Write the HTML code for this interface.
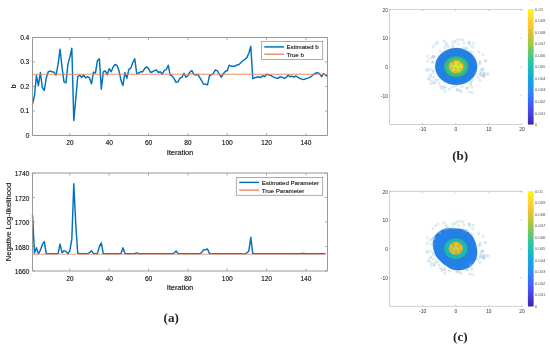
<!DOCTYPE html>
<html><head><meta charset="utf-8"><title>Figure</title>
<style>
html,body{margin:0;padding:0;background:#fff;}
svg{display:block;}

.tk{font-family:'Liberation Sans', Arial, Helvetica, sans-serif;font-size:6.5px;fill:#1a1a1a;}
.lb{font-family:'Liberation Sans', Arial, Helvetica, sans-serif;font-size:7.3px;fill:#1a1a1a;}
.lg{font-family:'Liberation Sans', Arial, Helvetica, sans-serif;font-size:6.1px;fill:#1a1a1a;}
.hk{font-family:'Liberation Sans', Arial, Helvetica, sans-serif;font-size:4.9px;fill:#333;}
.cb{font-family:'Liberation Sans', Arial, Helvetica, sans-serif;font-size:4.3px;fill:#555;}
.cap{font-family:'Liberation Serif', 'Times New Roman', serif;font-size:13px;font-weight:bold;fill:#222;}
</style></head>
<body>
<svg width="550" height="347" viewBox="0 0 550 347">
<defs><linearGradient id="parula" x1="0" y1="0" x2="0" y2="1"><stop offset="0.000" stop-color="rgb(249,251,21)"/><stop offset="0.143" stop-color="rgb(254,195,56)"/><stop offset="0.286" stop-color="rgb(171,199,57)"/><stop offset="0.429" stop-color="rgb(55,200,151)"/><stop offset="0.571" stop-color="rgb(18,177,214)"/><stop offset="0.714" stop-color="rgb(46,135,247)"/><stop offset="0.857" stop-color="rgb(72,82,244)"/><stop offset="1.000" stop-color="rgb(62,38,168)"/></linearGradient></defs>
<rect x="0" y="0" width="550" height="347" fill="#fff"/>
<line x1="69.87" y1="135.5" x2="69.87" y2="132.9" stroke="#989898" stroke-width="0.8"/>
<line x1="69.87" y1="37.5" x2="69.87" y2="40.1" stroke="#989898" stroke-width="0.8"/>
<g><text x="69.87" y="145.2" text-anchor="middle" class="tk">20</text><text dx="0.3" opacity="0.55" x="69.87" y="145.2" text-anchor="middle" class="tk">20</text></g>
<line x1="109.20" y1="135.5" x2="109.20" y2="132.9" stroke="#989898" stroke-width="0.8"/>
<line x1="109.20" y1="37.5" x2="109.20" y2="40.1" stroke="#989898" stroke-width="0.8"/>
<g><text x="109.20" y="145.2" text-anchor="middle" class="tk">40</text><text dx="0.3" opacity="0.55" x="109.20" y="145.2" text-anchor="middle" class="tk">40</text></g>
<line x1="148.53" y1="135.5" x2="148.53" y2="132.9" stroke="#989898" stroke-width="0.8"/>
<line x1="148.53" y1="37.5" x2="148.53" y2="40.1" stroke="#989898" stroke-width="0.8"/>
<g><text x="148.53" y="145.2" text-anchor="middle" class="tk">60</text><text dx="0.3" opacity="0.55" x="148.53" y="145.2" text-anchor="middle" class="tk">60</text></g>
<line x1="187.87" y1="135.5" x2="187.87" y2="132.9" stroke="#989898" stroke-width="0.8"/>
<line x1="187.87" y1="37.5" x2="187.87" y2="40.1" stroke="#989898" stroke-width="0.8"/>
<g><text x="187.87" y="145.2" text-anchor="middle" class="tk">80</text><text dx="0.3" opacity="0.55" x="187.87" y="145.2" text-anchor="middle" class="tk">80</text></g>
<line x1="227.20" y1="135.5" x2="227.20" y2="132.9" stroke="#989898" stroke-width="0.8"/>
<line x1="227.20" y1="37.5" x2="227.20" y2="40.1" stroke="#989898" stroke-width="0.8"/>
<g><text x="227.20" y="145.2" text-anchor="middle" class="tk">100</text><text dx="0.3" opacity="0.55" x="227.20" y="145.2" text-anchor="middle" class="tk">100</text></g>
<line x1="266.53" y1="135.5" x2="266.53" y2="132.9" stroke="#989898" stroke-width="0.8"/>
<line x1="266.53" y1="37.5" x2="266.53" y2="40.1" stroke="#989898" stroke-width="0.8"/>
<g><text x="266.53" y="145.2" text-anchor="middle" class="tk">120</text><text dx="0.3" opacity="0.55" x="266.53" y="145.2" text-anchor="middle" class="tk">120</text></g>
<line x1="305.87" y1="135.5" x2="305.87" y2="132.9" stroke="#989898" stroke-width="0.8"/>
<line x1="305.87" y1="37.5" x2="305.87" y2="40.1" stroke="#989898" stroke-width="0.8"/>
<g><text x="305.87" y="145.2" text-anchor="middle" class="tk">140</text><text dx="0.3" opacity="0.55" x="305.87" y="145.2" text-anchor="middle" class="tk">140</text></g>
<line x1="32.5" y1="135.50" x2="35.1" y2="135.50" stroke="#989898" stroke-width="0.8"/>
<line x1="327.5" y1="135.50" x2="324.9" y2="135.50" stroke="#989898" stroke-width="0.8"/>
<g><text x="29.20" y="137.85" text-anchor="end" class="tk">0</text><text dx="0.3" opacity="0.55" x="29.20" y="137.85" text-anchor="end" class="tk">0</text></g>
<line x1="32.5" y1="111.00" x2="35.1" y2="111.00" stroke="#989898" stroke-width="0.8"/>
<line x1="327.5" y1="111.00" x2="324.9" y2="111.00" stroke="#989898" stroke-width="0.8"/>
<g><text x="29.20" y="113.35" text-anchor="end" class="tk">0.1</text><text dx="0.3" opacity="0.55" x="29.20" y="113.35" text-anchor="end" class="tk">0.1</text></g>
<line x1="32.5" y1="86.50" x2="35.1" y2="86.50" stroke="#989898" stroke-width="0.8"/>
<line x1="327.5" y1="86.50" x2="324.9" y2="86.50" stroke="#989898" stroke-width="0.8"/>
<g><text x="29.20" y="88.85" text-anchor="end" class="tk">0.2</text><text dx="0.3" opacity="0.55" x="29.20" y="88.85" text-anchor="end" class="tk">0.2</text></g>
<line x1="32.5" y1="62.00" x2="35.1" y2="62.00" stroke="#989898" stroke-width="0.8"/>
<line x1="327.5" y1="62.00" x2="324.9" y2="62.00" stroke="#989898" stroke-width="0.8"/>
<g><text x="29.20" y="64.35" text-anchor="end" class="tk">0.3</text><text dx="0.3" opacity="0.55" x="29.20" y="64.35" text-anchor="end" class="tk">0.3</text></g>
<line x1="32.5" y1="37.50" x2="35.1" y2="37.50" stroke="#989898" stroke-width="0.8"/>
<line x1="327.5" y1="37.50" x2="324.9" y2="37.50" stroke="#989898" stroke-width="0.8"/>
<g><text x="29.20" y="39.85" text-anchor="end" class="tk">0.4</text><text dx="0.3" opacity="0.55" x="29.20" y="39.85" text-anchor="end" class="tk">0.4</text></g>
<polyline points="32.50,104.38 34.47,95.56 36.43,75.47 38.40,85.76 40.37,72.53 42.33,87.48 44.30,90.42 46.27,77.93 48.23,71.80 50.20,71.06 52.17,71.80 54.13,72.29 56.10,75.23 58.07,64.45 60.03,49.26 62.00,66.90 63.97,81.84 65.93,82.83 67.90,64.45 69.87,57.10 71.83,48.28 73.80,120.56 75.77,98.75 77.73,76.70 79.70,74.98 81.67,77.44 83.63,74.98 85.60,77.93 87.57,76.70 89.53,77.93 91.50,83.81 93.47,72.29 95.43,73.03 97.40,60.78 99.37,58.81 101.33,89.19 103.30,71.80 105.27,70.82 107.23,74.74 109.20,68.61 111.17,71.80 113.13,66.90 115.10,64.45 117.07,65.43 119.03,70.82 121.00,80.38 122.97,85.52 124.93,72.53 126.90,78.17 128.87,69.35 130.83,68.12 132.80,62.49 134.77,58.81 136.73,73.76 138.70,73.03 140.67,71.80 142.63,71.80 144.60,68.61 146.57,66.90 148.53,68.61 150.50,72.53 152.47,71.80 154.43,70.58 156.40,69.84 158.37,72.53 160.33,71.80 162.30,74.25 164.27,70.33 166.23,69.84 168.20,65.19 170.17,74.98 172.13,75.97 174.10,78.66 176.07,82.34 178.03,81.84 180.00,78.17 181.97,77.19 183.93,73.27 185.90,77.19 187.87,75.72 189.83,72.29 191.80,70.58 193.77,74.25 195.73,74.98 197.70,74.25 199.67,77.44 201.63,80.62 203.60,84.05 205.57,84.30 207.53,84.78 209.50,75.72 211.47,74.74 213.43,73.27 215.40,69.84 217.37,70.82 219.33,74.25 221.30,77.19 223.27,74.00 225.23,71.31 227.20,70.82 229.17,65.19 231.13,66.17 233.10,66.17 235.07,66.17 237.03,64.94 239.00,64.45 240.97,62.49 242.93,60.78 244.90,59.31 246.87,57.59 248.83,53.18 250.80,46.32 252.77,78.66 254.73,77.68 256.70,77.19 258.67,76.70 260.63,77.68 262.60,75.72 264.57,76.70 266.53,74.25 268.50,74.74 270.47,75.23 272.43,76.46 274.40,77.44 276.37,78.17 278.33,78.17 280.30,76.70 282.27,77.44 284.23,78.41 286.20,77.44 288.17,74.98 290.13,76.70 292.10,76.21 294.07,77.19 296.03,75.97 298.00,77.44 299.97,78.66 301.93,79.15 303.90,79.64 305.87,78.66 307.83,78.17 309.80,77.44 311.77,75.97 313.73,74.25 315.70,73.27 317.67,72.53 319.63,73.76 321.60,76.70 323.57,73.52 325.53,75.23 327.50,76.46" fill="none" stroke="#0072BD" stroke-width="1.45" stroke-linejoin="round"/>
<line x1="32.5" y1="74.25" x2="327.50" y2="74.25" stroke="#E9845C" stroke-width="1.05" opacity="0.92"/>
<path d="M32.5,135.5 L32.5,37.5 L327.5,37.5" fill="none" stroke="#989898" stroke-width="1"/>
<path d="M32.5,135.5 L327.5,135.5" fill="none" stroke="#989898" stroke-width="1"/>
<path d="M327.5,37.5 L327.5,135.5" fill="none" stroke="#989898" stroke-width="1"/>
<g><text x="180" y="154.9" text-anchor="middle" class="lb">Iteration</text><text dx="0.3" opacity="0.55" x="180" y="154.9" text-anchor="middle" class="lb">Iteration</text></g>
<g><text transform="translate(16.3,86.5) rotate(-90)" text-anchor="middle" class="lb" style="font-size:7.3px">b</text><text dx="0.3" opacity="0.55" transform="translate(16.3,86.5) rotate(-90)" text-anchor="middle" class="lb" style="font-size:7.3px">b</text></g>
<rect x="261.6" y="41.5" width="61.099999999999966" height="18.0" fill="#fff" stroke="#989898" stroke-width="0.8"/>
<line x1="264.3" y1="46.9" x2="284.1" y2="46.9" stroke="#0072BD" stroke-width="1.5"/>
<line x1="264.3" y1="54.2" x2="284.1" y2="54.2" stroke="#E9815A" stroke-width="1.3"/>
<g><text x="286.4" y="49.1" class="lg">Estimated b</text><text dx="0.3" opacity="0.55" x="286.4" y="49.1" class="lg">Estimated b</text></g>
<g><text x="286.4" y="56.7" class="lg">True b</text><text dx="0.3" opacity="0.55" x="286.4" y="56.7" class="lg">True b</text></g>
<line x1="69.87" y1="271.0" x2="69.87" y2="268.4" stroke="#989898" stroke-width="0.8"/>
<line x1="69.87" y1="173.0" x2="69.87" y2="175.6" stroke="#989898" stroke-width="0.8"/>
<g><text x="69.87" y="280.7" text-anchor="middle" class="tk">20</text><text dx="0.3" opacity="0.55" x="69.87" y="280.7" text-anchor="middle" class="tk">20</text></g>
<line x1="109.20" y1="271.0" x2="109.20" y2="268.4" stroke="#989898" stroke-width="0.8"/>
<line x1="109.20" y1="173.0" x2="109.20" y2="175.6" stroke="#989898" stroke-width="0.8"/>
<g><text x="109.20" y="280.7" text-anchor="middle" class="tk">40</text><text dx="0.3" opacity="0.55" x="109.20" y="280.7" text-anchor="middle" class="tk">40</text></g>
<line x1="148.53" y1="271.0" x2="148.53" y2="268.4" stroke="#989898" stroke-width="0.8"/>
<line x1="148.53" y1="173.0" x2="148.53" y2="175.6" stroke="#989898" stroke-width="0.8"/>
<g><text x="148.53" y="280.7" text-anchor="middle" class="tk">60</text><text dx="0.3" opacity="0.55" x="148.53" y="280.7" text-anchor="middle" class="tk">60</text></g>
<line x1="187.87" y1="271.0" x2="187.87" y2="268.4" stroke="#989898" stroke-width="0.8"/>
<line x1="187.87" y1="173.0" x2="187.87" y2="175.6" stroke="#989898" stroke-width="0.8"/>
<g><text x="187.87" y="280.7" text-anchor="middle" class="tk">80</text><text dx="0.3" opacity="0.55" x="187.87" y="280.7" text-anchor="middle" class="tk">80</text></g>
<line x1="227.20" y1="271.0" x2="227.20" y2="268.4" stroke="#989898" stroke-width="0.8"/>
<line x1="227.20" y1="173.0" x2="227.20" y2="175.6" stroke="#989898" stroke-width="0.8"/>
<g><text x="227.20" y="280.7" text-anchor="middle" class="tk">100</text><text dx="0.3" opacity="0.55" x="227.20" y="280.7" text-anchor="middle" class="tk">100</text></g>
<line x1="266.53" y1="271.0" x2="266.53" y2="268.4" stroke="#989898" stroke-width="0.8"/>
<line x1="266.53" y1="173.0" x2="266.53" y2="175.6" stroke="#989898" stroke-width="0.8"/>
<g><text x="266.53" y="280.7" text-anchor="middle" class="tk">120</text><text dx="0.3" opacity="0.55" x="266.53" y="280.7" text-anchor="middle" class="tk">120</text></g>
<line x1="305.87" y1="271.0" x2="305.87" y2="268.4" stroke="#989898" stroke-width="0.8"/>
<line x1="305.87" y1="173.0" x2="305.87" y2="175.6" stroke="#989898" stroke-width="0.8"/>
<g><text x="305.87" y="280.7" text-anchor="middle" class="tk">140</text><text dx="0.3" opacity="0.55" x="305.87" y="280.7" text-anchor="middle" class="tk">140</text></g>
<line x1="32.5" y1="271.00" x2="35.1" y2="271.00" stroke="#989898" stroke-width="0.8"/>
<line x1="327.5" y1="271.00" x2="324.9" y2="271.00" stroke="#989898" stroke-width="0.8"/>
<g><text x="29.20" y="274.05" text-anchor="end" class="tk">1660</text><text dx="0.3" opacity="0.55" x="29.20" y="274.05" text-anchor="end" class="tk">1660</text></g>
<line x1="32.5" y1="246.50" x2="35.1" y2="246.50" stroke="#989898" stroke-width="0.8"/>
<line x1="327.5" y1="246.50" x2="324.9" y2="246.50" stroke="#989898" stroke-width="0.8"/>
<g><text x="29.20" y="249.55" text-anchor="end" class="tk">1680</text><text dx="0.3" opacity="0.55" x="29.20" y="249.55" text-anchor="end" class="tk">1680</text></g>
<line x1="32.5" y1="222.00" x2="35.1" y2="222.00" stroke="#989898" stroke-width="0.8"/>
<line x1="327.5" y1="222.00" x2="324.9" y2="222.00" stroke="#989898" stroke-width="0.8"/>
<g><text x="29.20" y="225.05" text-anchor="end" class="tk">1700</text><text dx="0.3" opacity="0.55" x="29.20" y="225.05" text-anchor="end" class="tk">1700</text></g>
<line x1="32.5" y1="197.50" x2="35.1" y2="197.50" stroke="#989898" stroke-width="0.8"/>
<line x1="327.5" y1="197.50" x2="324.9" y2="197.50" stroke="#989898" stroke-width="0.8"/>
<g><text x="29.20" y="200.55" text-anchor="end" class="tk">1720</text><text dx="0.3" opacity="0.55" x="29.20" y="200.55" text-anchor="end" class="tk">1720</text></g>
<line x1="32.5" y1="173.00" x2="35.1" y2="173.00" stroke="#989898" stroke-width="0.8"/>
<line x1="327.5" y1="173.00" x2="324.9" y2="173.00" stroke="#989898" stroke-width="0.8"/>
<g><text x="29.20" y="176.05" text-anchor="end" class="tk">1740</text><text dx="0.3" opacity="0.55" x="29.20" y="176.05" text-anchor="end" class="tk">1740</text></g>
<polyline points="32.50,214.65 34.47,253.24 36.43,247.72 38.40,253.85 40.37,250.18 42.33,244.66 44.30,241.60 46.27,253.85 48.23,253.60 50.20,253.60 52.17,253.60 54.13,253.60 56.10,253.60 58.07,253.60 60.03,244.05 62.00,252.62 63.97,250.67 65.93,251.40 67.90,253.85 69.87,250.67 71.83,239.15 73.80,183.66 75.77,224.45 77.73,253.24 79.70,253.60 81.67,253.60 83.63,253.60 85.60,253.60 87.57,253.60 89.53,252.62 91.50,250.67 93.47,253.60 95.43,253.60 97.40,253.60 99.37,246.62 101.33,242.95 103.30,253.85 105.27,253.60 107.23,253.60 109.20,253.60 111.17,253.60 113.13,253.60 115.10,253.60 117.07,253.60 119.03,253.60 121.00,253.60 122.97,247.85 124.93,253.60 126.90,253.60 128.87,253.73 130.83,253.60 132.80,253.60 134.77,253.48 136.73,252.87 138.70,253.60 140.67,253.60 142.63,253.60 144.60,253.60 146.57,253.60 148.53,253.60 150.50,253.60 152.47,253.60 154.43,253.60 156.40,253.60 158.37,253.60 160.33,253.60 162.30,253.60 164.27,253.60 166.23,253.60 168.20,253.60 170.17,253.60 172.13,253.60 174.10,253.12 176.07,250.91 178.03,253.48 180.00,253.60 181.97,253.60 183.93,253.60 185.90,253.60 187.87,253.60 189.83,253.60 191.80,253.60 193.77,253.60 195.73,253.60 197.70,253.60 199.67,253.60 201.63,252.62 203.60,249.81 205.57,249.68 207.53,248.95 209.50,253.60 211.47,253.60 213.43,253.60 215.40,253.60 217.37,253.60 219.33,253.60 221.30,253.60 223.27,253.60 225.23,253.60 227.20,253.60 229.17,253.60 231.13,253.60 233.10,253.60 235.07,253.60 237.03,253.60 239.00,253.60 240.97,253.60 242.93,253.85 244.90,253.60 246.87,253.12 248.83,251.03 250.80,237.31 252.77,253.60 254.73,253.60 256.70,253.60 258.67,253.60 260.63,253.60 262.60,253.60 264.57,253.60 266.53,253.60 268.50,253.60 270.47,253.60 272.43,253.60 274.40,253.60 276.37,253.60 278.33,253.60 280.30,253.60 282.27,253.60 284.23,253.60 286.20,253.60 288.17,253.60 290.13,253.60 292.10,253.60 294.07,253.60 296.03,253.60 298.00,253.60 299.97,253.60 301.93,253.48 303.90,253.36 305.87,253.60 307.83,253.60 309.80,253.60 311.77,253.60 313.73,253.60 315.70,253.60 317.67,253.60 319.63,253.60 321.60,253.60 323.57,253.60 325.53,253.60" fill="none" stroke="#0072BD" stroke-width="1.45" stroke-linejoin="round"/>
<line x1="32.5" y1="254.34" x2="325.53" y2="254.34" stroke="#E9845C" stroke-width="1.05" opacity="0.75"/>
<path d="M32.5,271.0 L32.5,173.0 L327.5,173.0" fill="none" stroke="#989898" stroke-width="1"/>
<path d="M32.5,271.0 L327.5,271.0" fill="none" stroke="#989898" stroke-width="1"/>
<path d="M327.5,173.0 L327.5,271.0" fill="none" stroke="#989898" stroke-width="1"/>
<g><text x="180" y="290.4" text-anchor="middle" class="lb">Iteration</text><text dx="0.3" opacity="0.55" x="180" y="290.4" text-anchor="middle" class="lb">Iteration</text></g>
<g><text transform="translate(11.3,222.0) rotate(-90)" text-anchor="middle" class="lb" style="font-size:7.55px">Negative Log-likelihood</text><text dx="0.3" opacity="0.55" transform="translate(11.3,222.0) rotate(-90)" text-anchor="middle" class="lb" style="font-size:7.55px">Negative Log-likelihood</text></g>
<rect x="236.3" y="177.4" width="86.39999999999998" height="17.900000000000006" fill="#fff" stroke="#989898" stroke-width="0.8"/>
<line x1="239.2" y1="182.4" x2="259.2" y2="182.4" stroke="#0072BD" stroke-width="1.5"/>
<line x1="239.2" y1="190.1" x2="259.2" y2="190.1" stroke="#E9815A" stroke-width="1.3"/>
<g><text x="261.7" y="184.6" class="lg">Estimated Parameter</text><text dx="0.3" opacity="0.55" x="261.7" y="184.6" class="lg">Estimated Parameter</text></g>
<g><text x="261.7" y="192.6" class="lg">True Parameter</text><text dx="0.3" opacity="0.55" x="261.7" y="192.6" class="lg">True Parameter</text></g>
<ellipse cx="456.2" cy="66.5" rx="21" ry="18.4" fill="#2280E6" stroke="#1f4f9a" stroke-width="0.4" stroke-opacity="0.6"/>
<ellipse cx="456.2" cy="66.6" rx="12.3" ry="10.7" fill="#2FBB8A" stroke="#2a6a80" stroke-width="0.4" stroke-opacity="0.5"/>
<ellipse cx="456.2" cy="66.6" rx="9.6" ry="8.4" fill="#48BE7A"/>
<ellipse cx="456.2" cy="66.7" rx="7.5" ry="6.6" fill="#F0B62C"/>
<ellipse cx="456.4" cy="66.8" rx="5.5" ry="4.9" fill="#E0E82A"/>
<circle cx="437.7" cy="42.3" r="1.05" fill="none" stroke="#9CC3DC" stroke-width="0.5" opacity="0.85"/>
<circle cx="443.9" cy="40.9" r="1.05" fill="none" stroke="#9CC3DC" stroke-width="0.5" opacity="0.85"/>
<circle cx="445.9" cy="43.0" r="1.05" fill="none" stroke="#9CC3DC" stroke-width="0.5" opacity="0.85"/>
<circle cx="448.0" cy="46.4" r="1.05" fill="none" stroke="#9CC3DC" stroke-width="0.5" opacity="0.85"/>
<circle cx="452.7" cy="42.3" r="1.05" fill="none" stroke="#9CC3DC" stroke-width="0.5" opacity="0.85"/>
<circle cx="454.8" cy="41.6" r="1.05" fill="none" stroke="#9CC3DC" stroke-width="0.5" opacity="0.85"/>
<circle cx="456.8" cy="40.2" r="1.05" fill="none" stroke="#9CC3DC" stroke-width="0.5" opacity="0.85"/>
<circle cx="459.6" cy="39.5" r="1.05" fill="none" stroke="#9CC3DC" stroke-width="0.5" opacity="0.85"/>
<circle cx="463.0" cy="39.8" r="1.05" fill="none" stroke="#9CC3DC" stroke-width="0.5" opacity="0.85"/>
<circle cx="452.7" cy="45.7" r="1.05" fill="none" stroke="#9CC3DC" stroke-width="0.5" opacity="0.85"/>
<circle cx="469.1" cy="42.3" r="1.05" fill="none" stroke="#9CC3DC" stroke-width="0.5" opacity="0.85"/>
<circle cx="469.8" cy="44.3" r="1.05" fill="none" stroke="#9CC3DC" stroke-width="0.5" opacity="0.85"/>
<circle cx="463.7" cy="47.7" r="1.05" fill="none" stroke="#9CC3DC" stroke-width="0.5" opacity="0.85"/>
<circle cx="467.1" cy="48.4" r="1.05" fill="none" stroke="#9CC3DC" stroke-width="0.5" opacity="0.85"/>
<circle cx="472.5" cy="47.0" r="1.05" fill="none" stroke="#9CC3DC" stroke-width="0.5" opacity="0.85"/>
<circle cx="478.7" cy="51.8" r="1.05" fill="none" stroke="#9CC3DC" stroke-width="0.5" opacity="0.85"/>
<circle cx="482.8" cy="54.6" r="1.05" fill="none" stroke="#9CC3DC" stroke-width="0.5" opacity="0.85"/>
<circle cx="485.5" cy="60.7" r="1.05" fill="none" stroke="#9CC3DC" stroke-width="0.5" opacity="0.85"/>
<circle cx="480.0" cy="61.4" r="1.05" fill="none" stroke="#9CC3DC" stroke-width="0.5" opacity="0.85"/>
<circle cx="479.3" cy="64.1" r="1.05" fill="none" stroke="#9CC3DC" stroke-width="0.5" opacity="0.85"/>
<circle cx="482.8" cy="69.6" r="1.05" fill="none" stroke="#9CC3DC" stroke-width="0.5" opacity="0.85"/>
<circle cx="484.1" cy="73.7" r="1.05" fill="none" stroke="#9CC3DC" stroke-width="0.5" opacity="0.85"/>
<circle cx="488.2" cy="74.3" r="1.05" fill="none" stroke="#9CC3DC" stroke-width="0.5" opacity="0.85"/>
<circle cx="480.7" cy="75.0" r="1.05" fill="none" stroke="#9CC3DC" stroke-width="0.5" opacity="0.85"/>
<circle cx="427.5" cy="55.9" r="1.05" fill="none" stroke="#9CC3DC" stroke-width="0.5" opacity="0.85"/>
<circle cx="430.2" cy="58.6" r="1.05" fill="none" stroke="#9CC3DC" stroke-width="0.5" opacity="0.85"/>
<circle cx="432.3" cy="57.3" r="1.05" fill="none" stroke="#9CC3DC" stroke-width="0.5" opacity="0.85"/>
<circle cx="434.3" cy="56.6" r="1.05" fill="none" stroke="#9CC3DC" stroke-width="0.5" opacity="0.85"/>
<circle cx="427.5" cy="61.4" r="1.05" fill="none" stroke="#9CC3DC" stroke-width="0.5" opacity="0.85"/>
<circle cx="433.0" cy="62.1" r="1.05" fill="none" stroke="#9CC3DC" stroke-width="0.5" opacity="0.85"/>
<circle cx="426.8" cy="69.6" r="1.05" fill="none" stroke="#9CC3DC" stroke-width="0.5" opacity="0.85"/>
<circle cx="430.2" cy="68.9" r="1.05" fill="none" stroke="#9CC3DC" stroke-width="0.5" opacity="0.85"/>
<circle cx="433.0" cy="70.9" r="1.05" fill="none" stroke="#9CC3DC" stroke-width="0.5" opacity="0.85"/>
<circle cx="430.9" cy="75.0" r="1.05" fill="none" stroke="#9CC3DC" stroke-width="0.5" opacity="0.85"/>
<circle cx="430.2" cy="76.4" r="1.05" fill="none" stroke="#9CC3DC" stroke-width="0.5" opacity="0.85"/>
<circle cx="433.6" cy="77.1" r="1.05" fill="none" stroke="#9CC3DC" stroke-width="0.5" opacity="0.85"/>
<circle cx="431.6" cy="81.1" r="1.05" fill="none" stroke="#9CC3DC" stroke-width="0.5" opacity="0.85"/>
<circle cx="435.7" cy="80.5" r="1.05" fill="none" stroke="#9CC3DC" stroke-width="0.5" opacity="0.85"/>
<circle cx="437.1" cy="79.8" r="1.05" fill="none" stroke="#9CC3DC" stroke-width="0.5" opacity="0.85"/>
<circle cx="434.3" cy="83.2" r="1.05" fill="none" stroke="#9CC3DC" stroke-width="0.5" opacity="0.85"/>
<circle cx="439.1" cy="83.2" r="1.05" fill="none" stroke="#9CC3DC" stroke-width="0.5" opacity="0.85"/>
<circle cx="440.5" cy="85.9" r="1.05" fill="none" stroke="#9CC3DC" stroke-width="0.5" opacity="0.85"/>
<circle cx="442.5" cy="87.3" r="1.05" fill="none" stroke="#9CC3DC" stroke-width="0.5" opacity="0.85"/>
<circle cx="441.8" cy="88.6" r="1.05" fill="none" stroke="#9CC3DC" stroke-width="0.5" opacity="0.85"/>
<circle cx="444.6" cy="86.6" r="1.05" fill="none" stroke="#9CC3DC" stroke-width="0.5" opacity="0.85"/>
<circle cx="449.3" cy="89.3" r="1.05" fill="none" stroke="#9CC3DC" stroke-width="0.5" opacity="0.85"/>
<circle cx="452.7" cy="87.3" r="1.05" fill="none" stroke="#9CC3DC" stroke-width="0.5" opacity="0.85"/>
<circle cx="455.5" cy="85.9" r="1.05" fill="none" stroke="#9CC3DC" stroke-width="0.5" opacity="0.85"/>
<circle cx="457.5" cy="89.3" r="1.05" fill="none" stroke="#9CC3DC" stroke-width="0.5" opacity="0.85"/>
<circle cx="459.6" cy="90.7" r="1.05" fill="none" stroke="#9CC3DC" stroke-width="0.5" opacity="0.85"/>
<circle cx="460.9" cy="91.4" r="1.05" fill="none" stroke="#9CC3DC" stroke-width="0.5" opacity="0.85"/>
<circle cx="462.3" cy="86.6" r="1.05" fill="none" stroke="#9CC3DC" stroke-width="0.5" opacity="0.85"/>
<circle cx="467.1" cy="88.0" r="1.05" fill="none" stroke="#9CC3DC" stroke-width="0.5" opacity="0.85"/>
<circle cx="469.8" cy="92.1" r="1.05" fill="none" stroke="#9CC3DC" stroke-width="0.5" opacity="0.85"/>
<circle cx="472.5" cy="92.7" r="1.05" fill="none" stroke="#9CC3DC" stroke-width="0.5" opacity="0.85"/>
<circle cx="471.8" cy="87.3" r="1.05" fill="none" stroke="#9CC3DC" stroke-width="0.5" opacity="0.85"/>
<circle cx="470.5" cy="83.2" r="1.05" fill="none" stroke="#9CC3DC" stroke-width="0.5" opacity="0.85"/>
<circle cx="480.0" cy="80.5" r="1.05" fill="none" stroke="#9CC3DC" stroke-width="0.5" opacity="0.85"/>
<circle cx="480.7" cy="73.6" r="1.05" fill="none" stroke="#9CC3DC" stroke-width="0.5" opacity="0.85"/>
<circle cx="484.1" cy="75.0" r="1.05" fill="none" stroke="#9CC3DC" stroke-width="0.5" opacity="0.85"/>
<circle cx="486.8" cy="73.6" r="1.05" fill="none" stroke="#9CC3DC" stroke-width="0.5" opacity="0.85"/>
<circle cx="484.1" cy="76.4" r="1.05" fill="none" stroke="#9CC3DC" stroke-width="0.5" opacity="0.85"/>
<circle cx="482.8" cy="68.9" r="1.05" fill="none" stroke="#9CC3DC" stroke-width="0.5" opacity="0.85"/>
<circle cx="480.0" cy="62.7" r="1.05" fill="none" stroke="#9CC3DC" stroke-width="0.5" opacity="0.85"/>
<circle cx="485.5" cy="60.7" r="1.05" fill="none" stroke="#9CC3DC" stroke-width="0.5" opacity="0.85"/>
<circle cx="446.3" cy="82.9" r="1.05" fill="none" stroke="#9CC3DC" stroke-width="0.5" opacity="0.18"/>
<circle cx="444.1" cy="53.0" r="1.05" fill="none" stroke="#9CC3DC" stroke-width="0.5" opacity="0.18"/>
<circle cx="432.1" cy="62.2" r="1.05" fill="none" stroke="#9CC3DC" stroke-width="0.5" opacity="0.85"/>
<circle cx="480.5" cy="74.8" r="1.05" fill="none" stroke="#9CC3DC" stroke-width="0.5" opacity="0.85"/>
<circle cx="480.5" cy="71.8" r="1.05" fill="none" stroke="#9CC3DC" stroke-width="0.5" opacity="0.85"/>
<circle cx="474.2" cy="74.1" r="1.05" fill="none" stroke="#9CC3DC" stroke-width="0.5" opacity="0.18"/>
<circle cx="428.2" cy="78.8" r="1.05" fill="none" stroke="#9CC3DC" stroke-width="0.5" opacity="0.85"/>
<circle cx="471.7" cy="80.1" r="1.05" fill="none" stroke="#9CC3DC" stroke-width="0.5" opacity="0.85"/>
<circle cx="432.9" cy="46.8" r="1.05" fill="none" stroke="#9CC3DC" stroke-width="0.5" opacity="0.85"/>
<circle cx="433.8" cy="57.0" r="1.05" fill="none" stroke="#9CC3DC" stroke-width="0.5" opacity="0.85"/>
<circle cx="475.3" cy="64.3" r="1.05" fill="none" stroke="#9CC3DC" stroke-width="0.5" opacity="0.18"/>
<circle cx="470.5" cy="51.5" r="1.05" fill="none" stroke="#9CC3DC" stroke-width="0.5" opacity="0.85"/>
<circle cx="468.6" cy="80.7" r="1.05" fill="none" stroke="#9CC3DC" stroke-width="0.5" opacity="0.18"/>
<circle cx="444.7" cy="91.3" r="1.05" fill="none" stroke="#9CC3DC" stroke-width="0.5" opacity="0.85"/>
<circle cx="467.4" cy="88.0" r="1.05" fill="none" stroke="#9CC3DC" stroke-width="0.5" opacity="0.85"/>
<circle cx="440.1" cy="50.9" r="1.05" fill="none" stroke="#9CC3DC" stroke-width="0.5" opacity="0.85"/>
<circle cx="436.7" cy="61.8" r="1.05" fill="none" stroke="#9CC3DC" stroke-width="0.5" opacity="0.18"/>
<circle cx="476.3" cy="73.6" r="1.05" fill="none" stroke="#9CC3DC" stroke-width="0.5" opacity="0.85"/>
<circle cx="445.1" cy="47.4" r="1.05" fill="none" stroke="#9CC3DC" stroke-width="0.5" opacity="0.85"/>
<circle cx="445.0" cy="88.3" r="1.05" fill="none" stroke="#9CC3DC" stroke-width="0.5" opacity="0.85"/>
<circle cx="433.4" cy="72.6" r="1.05" fill="none" stroke="#9CC3DC" stroke-width="0.5" opacity="0.85"/>
<circle cx="463.8" cy="43.0" r="1.05" fill="none" stroke="#9CC3DC" stroke-width="0.5" opacity="0.85"/>
<circle cx="456.8" cy="90.0" r="1.05" fill="none" stroke="#9CC3DC" stroke-width="0.5" opacity="0.85"/>
<circle cx="452.8" cy="47.3" r="1.05" fill="none" stroke="#9CC3DC" stroke-width="0.5" opacity="0.85"/>
<circle cx="476.4" cy="64.6" r="1.05" fill="none" stroke="#9CC3DC" stroke-width="0.5" opacity="0.18"/>
<circle cx="429.6" cy="79.3" r="1.05" fill="none" stroke="#9CC3DC" stroke-width="0.5" opacity="0.85"/>
<circle cx="470.9" cy="84.9" r="1.05" fill="none" stroke="#9CC3DC" stroke-width="0.5" opacity="0.85"/>
<circle cx="483.7" cy="72.8" r="1.05" fill="none" stroke="#9CC3DC" stroke-width="0.5" opacity="0.85"/>
<circle cx="458.3" cy="43.7" r="1.05" fill="none" stroke="#9CC3DC" stroke-width="0.5" opacity="0.85"/>
<circle cx="472.5" cy="52.7" r="1.05" fill="none" stroke="#9CC3DC" stroke-width="0.5" opacity="0.85"/>
<circle cx="446.5" cy="44.7" r="1.05" fill="none" stroke="#9CC3DC" stroke-width="0.5" opacity="0.85"/>
<circle cx="433.3" cy="56.3" r="1.05" fill="none" stroke="#9CC3DC" stroke-width="0.5" opacity="0.85"/>
<circle cx="473.4" cy="43.3" r="1.05" fill="none" stroke="#9CC3DC" stroke-width="0.5" opacity="0.85"/>
<circle cx="427.5" cy="70.7" r="1.05" fill="none" stroke="#9CC3DC" stroke-width="0.5" opacity="0.85"/>
<circle cx="483.0" cy="76.0" r="1.05" fill="none" stroke="#9CC3DC" stroke-width="0.5" opacity="0.85"/>
<circle cx="435.6" cy="44.1" r="1.05" fill="none" stroke="#9CC3DC" stroke-width="0.5" opacity="0.85"/>
<circle cx="465.9" cy="49.1" r="1.05" fill="none" stroke="#9CC3DC" stroke-width="0.5" opacity="0.85"/>
<circle cx="434.1" cy="82.8" r="1.05" fill="none" stroke="#9CC3DC" stroke-width="0.5" opacity="0.85"/>
<circle cx="481.3" cy="69.9" r="1.05" fill="none" stroke="#9CC3DC" stroke-width="0.5" opacity="0.85"/>
<circle cx="466.0" cy="82.1" r="1.05" fill="none" stroke="#9CC3DC" stroke-width="0.5" opacity="0.18"/>
<circle cx="484.0" cy="76.1" r="1.05" fill="none" stroke="#9CC3DC" stroke-width="0.5" opacity="0.85"/>
<circle cx="471.4" cy="80.7" r="1.05" fill="none" stroke="#9CC3DC" stroke-width="0.5" opacity="0.85"/>
<circle cx="431.2" cy="83.8" r="1.05" fill="none" stroke="#9CC3DC" stroke-width="0.5" opacity="0.85"/>
<circle cx="478.2" cy="77.3" r="1.05" fill="none" stroke="#9CC3DC" stroke-width="0.5" opacity="0.85"/>
<circle cx="469.1" cy="42.5" r="1.05" fill="none" stroke="#9CC3DC" stroke-width="0.5" opacity="0.85"/>
<circle cx="453.5" cy="64.2" r="1.0" fill="none" stroke="#5f9c80" stroke-width="0.5" opacity="0.75"/>
<circle cx="458.3" cy="64.6" r="1.0" fill="none" stroke="#5f9c80" stroke-width="0.5" opacity="0.75"/>
<circle cx="455.5" cy="68.6" r="1.0" fill="none" stroke="#5f9c80" stroke-width="0.5" opacity="0.75"/>
<circle cx="451.8" cy="68.2" r="1.0" fill="none" stroke="#5f9c80" stroke-width="0.5" opacity="0.75"/>
<circle cx="459.8" cy="69.2" r="1.0" fill="none" stroke="#5f9c80" stroke-width="0.5" opacity="0.75"/>
<circle cx="456.3" cy="71.2" r="1.0" fill="none" stroke="#5f9c80" stroke-width="0.5" opacity="0.75"/>
<circle cx="452.8" cy="61.8" r="1.0" fill="none" stroke="#5f9c80" stroke-width="0.5" opacity="0.75"/>
<circle cx="460.5" cy="62.5" r="1.0" fill="none" stroke="#5f9c80" stroke-width="0.5" opacity="0.75"/>
<path d="M389.5,124.5 L389.5,9.5 L522.0,9.5" fill="none" stroke="#c4c4c4" stroke-width="0.8"/>
<path d="M389.5,124.5 L522.0,124.5" fill="none" stroke="#c4c4c4" stroke-width="0.8"/>
<line x1="422.62" y1="124.5" x2="422.62" y2="123.0" stroke="#999" stroke-width="0.5"/>
<line x1="422.62" y1="9.5" x2="422.62" y2="11.0" stroke="#999" stroke-width="0.5"/>
<text x="422.62" y="130.90" text-anchor="middle" class="hk">-10</text>
<line x1="455.75" y1="124.5" x2="455.75" y2="123.0" stroke="#999" stroke-width="0.5"/>
<line x1="455.75" y1="9.5" x2="455.75" y2="11.0" stroke="#999" stroke-width="0.5"/>
<text x="455.75" y="130.90" text-anchor="middle" class="hk">0</text>
<line x1="488.88" y1="124.5" x2="488.88" y2="123.0" stroke="#999" stroke-width="0.5"/>
<line x1="488.88" y1="9.5" x2="488.88" y2="11.0" stroke="#999" stroke-width="0.5"/>
<text x="488.88" y="130.90" text-anchor="middle" class="hk">10</text>
<line x1="522.00" y1="124.5" x2="522.00" y2="123.0" stroke="#999" stroke-width="0.5"/>
<line x1="522.00" y1="9.5" x2="522.00" y2="11.0" stroke="#999" stroke-width="0.5"/>
<text x="522.00" y="130.90" text-anchor="middle" class="hk">20</text>
<line x1="389.5" y1="95.75" x2="391.0" y2="95.75" stroke="#999" stroke-width="0.5"/>
<line x1="522.0" y1="95.75" x2="520.5" y2="95.75" stroke="#999" stroke-width="0.5"/>
<text x="387.90" y="97.95" text-anchor="end" class="hk">-10</text>
<line x1="389.5" y1="67.00" x2="391.0" y2="67.00" stroke="#999" stroke-width="0.5"/>
<line x1="522.0" y1="67.00" x2="520.5" y2="67.00" stroke="#999" stroke-width="0.5"/>
<text x="387.90" y="69.20" text-anchor="end" class="hk">0</text>
<line x1="389.5" y1="38.25" x2="391.0" y2="38.25" stroke="#999" stroke-width="0.5"/>
<line x1="522.0" y1="38.25" x2="520.5" y2="38.25" stroke="#999" stroke-width="0.5"/>
<text x="387.90" y="40.45" text-anchor="end" class="hk">10</text>
<line x1="389.5" y1="9.50" x2="391.0" y2="9.50" stroke="#999" stroke-width="0.5"/>
<line x1="522.0" y1="9.50" x2="520.5" y2="9.50" stroke="#999" stroke-width="0.5"/>
<text x="387.90" y="11.70" text-anchor="end" class="hk">20</text>
<rect x="527.9" y="9.2" width="5.7" height="115.4" fill="url(#parula)"/>
<text x="534.7" y="126.10" class="cb">0</text>
<text x="534.7" y="114.56" class="cb">0.001</text>
<text x="534.7" y="103.02" class="cb">0.002</text>
<text x="534.7" y="91.48" class="cb">0.003</text>
<text x="534.7" y="79.94" class="cb">0.004</text>
<text x="534.7" y="68.40" class="cb">0.005</text>
<text x="534.7" y="56.86" class="cb">0.006</text>
<text x="534.7" y="45.32" class="cb">0.007</text>
<text x="534.7" y="33.78" class="cb">0.008</text>
<text x="534.7" y="22.24" class="cb">0.009</text>
<text x="534.7" y="10.70" class="cb">0.01</text>
<path d="M452.50,228.30 C455.38,228.50 460.88,228.72 464.00,229.80 C467.12,230.88 469.28,232.65 471.20,234.80 C473.12,236.95 474.53,240.17 475.50,242.70 C476.47,245.23 476.87,247.35 477.00,250.00 C477.13,252.65 477.27,255.97 476.30,258.60 C475.33,261.23 473.25,264.00 471.20,265.80 C469.15,267.60 466.63,268.68 464.00,269.40 C461.37,270.12 458.03,270.47 455.40,270.10 C452.77,269.73 450.37,268.40 448.20,267.20 C446.03,266.00 444.33,264.58 442.40,262.90 C440.47,261.22 438.03,259.25 436.60,257.10 C435.17,254.95 434.40,252.40 433.80,250.00 C433.20,247.60 432.77,245.12 433.00,242.70 C433.23,240.28 433.87,237.53 435.20,235.50 C436.53,233.47 439.08,231.65 441.00,230.50 C442.92,229.35 444.78,228.97 446.70,228.60 C448.62,228.23 449.62,228.10 452.50,228.30 Z" fill="#2280E6" stroke="#1f4f9a" stroke-width="0.4" stroke-opacity="0.6"/>
<ellipse cx="455.8" cy="248.7" rx="11.9" ry="10.8" fill="#1FB5B6" stroke="#2a6a80" stroke-width="0.4" stroke-opacity="0.5"/>
<ellipse cx="455.8" cy="248.3" rx="7.1" ry="6.5" fill="#E8B72C"/>
<ellipse cx="455.9" cy="248.3" rx="4.8" ry="4.3" fill="#DCCB38"/>
<circle cx="437.7" cy="224.2" r="1.05" fill="none" stroke="#9CC3DC" stroke-width="0.5" opacity="0.85"/>
<circle cx="443.9" cy="222.8" r="1.05" fill="none" stroke="#9CC3DC" stroke-width="0.5" opacity="0.85"/>
<circle cx="445.9" cy="224.9" r="1.05" fill="none" stroke="#9CC3DC" stroke-width="0.5" opacity="0.85"/>
<circle cx="448.0" cy="228.3" r="1.05" fill="none" stroke="#9CC3DC" stroke-width="0.5" opacity="0.85"/>
<circle cx="452.7" cy="224.2" r="1.05" fill="none" stroke="#9CC3DC" stroke-width="0.5" opacity="0.85"/>
<circle cx="454.8" cy="223.5" r="1.05" fill="none" stroke="#9CC3DC" stroke-width="0.5" opacity="0.85"/>
<circle cx="456.8" cy="222.1" r="1.05" fill="none" stroke="#9CC3DC" stroke-width="0.5" opacity="0.85"/>
<circle cx="459.6" cy="221.4" r="1.05" fill="none" stroke="#9CC3DC" stroke-width="0.5" opacity="0.85"/>
<circle cx="463.0" cy="221.7" r="1.05" fill="none" stroke="#9CC3DC" stroke-width="0.5" opacity="0.85"/>
<circle cx="452.7" cy="227.6" r="1.05" fill="none" stroke="#9CC3DC" stroke-width="0.5" opacity="0.85"/>
<circle cx="469.1" cy="224.2" r="1.05" fill="none" stroke="#9CC3DC" stroke-width="0.5" opacity="0.85"/>
<circle cx="469.8" cy="226.2" r="1.05" fill="none" stroke="#9CC3DC" stroke-width="0.5" opacity="0.85"/>
<circle cx="463.7" cy="229.6" r="1.05" fill="none" stroke="#9CC3DC" stroke-width="0.5" opacity="0.85"/>
<circle cx="467.1" cy="230.3" r="1.05" fill="none" stroke="#9CC3DC" stroke-width="0.5" opacity="0.85"/>
<circle cx="472.5" cy="228.9" r="1.05" fill="none" stroke="#9CC3DC" stroke-width="0.5" opacity="0.85"/>
<circle cx="478.7" cy="233.7" r="1.05" fill="none" stroke="#9CC3DC" stroke-width="0.5" opacity="0.85"/>
<circle cx="482.8" cy="236.5" r="1.05" fill="none" stroke="#9CC3DC" stroke-width="0.5" opacity="0.85"/>
<circle cx="485.5" cy="242.6" r="1.05" fill="none" stroke="#9CC3DC" stroke-width="0.5" opacity="0.85"/>
<circle cx="480.0" cy="243.3" r="1.05" fill="none" stroke="#9CC3DC" stroke-width="0.5" opacity="0.85"/>
<circle cx="479.3" cy="246.0" r="1.05" fill="none" stroke="#9CC3DC" stroke-width="0.5" opacity="0.85"/>
<circle cx="482.8" cy="251.5" r="1.05" fill="none" stroke="#9CC3DC" stroke-width="0.5" opacity="0.85"/>
<circle cx="484.1" cy="255.6" r="1.05" fill="none" stroke="#9CC3DC" stroke-width="0.5" opacity="0.85"/>
<circle cx="488.2" cy="256.2" r="1.05" fill="none" stroke="#9CC3DC" stroke-width="0.5" opacity="0.85"/>
<circle cx="480.7" cy="256.9" r="1.05" fill="none" stroke="#9CC3DC" stroke-width="0.5" opacity="0.85"/>
<circle cx="427.5" cy="237.8" r="1.05" fill="none" stroke="#9CC3DC" stroke-width="0.5" opacity="0.85"/>
<circle cx="430.2" cy="240.5" r="1.05" fill="none" stroke="#9CC3DC" stroke-width="0.5" opacity="0.85"/>
<circle cx="432.3" cy="239.2" r="1.05" fill="none" stroke="#9CC3DC" stroke-width="0.5" opacity="0.85"/>
<circle cx="434.3" cy="238.5" r="1.05" fill="none" stroke="#9CC3DC" stroke-width="0.5" opacity="0.85"/>
<circle cx="427.5" cy="243.3" r="1.05" fill="none" stroke="#9CC3DC" stroke-width="0.5" opacity="0.85"/>
<circle cx="433.0" cy="244.0" r="1.05" fill="none" stroke="#9CC3DC" stroke-width="0.5" opacity="0.85"/>
<circle cx="426.8" cy="251.5" r="1.05" fill="none" stroke="#9CC3DC" stroke-width="0.5" opacity="0.85"/>
<circle cx="430.2" cy="250.8" r="1.05" fill="none" stroke="#9CC3DC" stroke-width="0.5" opacity="0.85"/>
<circle cx="433.0" cy="252.8" r="1.05" fill="none" stroke="#9CC3DC" stroke-width="0.5" opacity="0.85"/>
<circle cx="430.9" cy="256.9" r="1.05" fill="none" stroke="#9CC3DC" stroke-width="0.5" opacity="0.85"/>
<circle cx="430.2" cy="258.3" r="1.05" fill="none" stroke="#9CC3DC" stroke-width="0.5" opacity="0.85"/>
<circle cx="433.6" cy="259.0" r="1.05" fill="none" stroke="#9CC3DC" stroke-width="0.5" opacity="0.85"/>
<circle cx="431.6" cy="263.0" r="1.05" fill="none" stroke="#9CC3DC" stroke-width="0.5" opacity="0.85"/>
<circle cx="435.7" cy="262.4" r="1.05" fill="none" stroke="#9CC3DC" stroke-width="0.5" opacity="0.85"/>
<circle cx="437.1" cy="261.7" r="1.05" fill="none" stroke="#9CC3DC" stroke-width="0.5" opacity="0.85"/>
<circle cx="434.3" cy="265.1" r="1.05" fill="none" stroke="#9CC3DC" stroke-width="0.5" opacity="0.85"/>
<circle cx="439.1" cy="265.1" r="1.05" fill="none" stroke="#9CC3DC" stroke-width="0.5" opacity="0.85"/>
<circle cx="440.5" cy="267.8" r="1.05" fill="none" stroke="#9CC3DC" stroke-width="0.5" opacity="0.85"/>
<circle cx="442.5" cy="269.2" r="1.05" fill="none" stroke="#9CC3DC" stroke-width="0.5" opacity="0.85"/>
<circle cx="441.8" cy="270.5" r="1.05" fill="none" stroke="#9CC3DC" stroke-width="0.5" opacity="0.85"/>
<circle cx="444.6" cy="268.5" r="1.05" fill="none" stroke="#9CC3DC" stroke-width="0.5" opacity="0.85"/>
<circle cx="449.3" cy="271.2" r="1.05" fill="none" stroke="#9CC3DC" stroke-width="0.5" opacity="0.85"/>
<circle cx="452.7" cy="269.2" r="1.05" fill="none" stroke="#9CC3DC" stroke-width="0.5" opacity="0.18"/>
<circle cx="455.5" cy="267.8" r="1.05" fill="none" stroke="#9CC3DC" stroke-width="0.5" opacity="0.18"/>
<circle cx="457.5" cy="271.2" r="1.05" fill="none" stroke="#9CC3DC" stroke-width="0.5" opacity="0.85"/>
<circle cx="459.6" cy="272.6" r="1.05" fill="none" stroke="#9CC3DC" stroke-width="0.5" opacity="0.85"/>
<circle cx="460.9" cy="273.3" r="1.05" fill="none" stroke="#9CC3DC" stroke-width="0.5" opacity="0.85"/>
<circle cx="462.3" cy="268.5" r="1.05" fill="none" stroke="#9CC3DC" stroke-width="0.5" opacity="0.18"/>
<circle cx="467.1" cy="269.9" r="1.05" fill="none" stroke="#9CC3DC" stroke-width="0.5" opacity="0.85"/>
<circle cx="469.8" cy="274.0" r="1.05" fill="none" stroke="#9CC3DC" stroke-width="0.5" opacity="0.85"/>
<circle cx="472.5" cy="274.6" r="1.05" fill="none" stroke="#9CC3DC" stroke-width="0.5" opacity="0.85"/>
<circle cx="471.8" cy="269.2" r="1.05" fill="none" stroke="#9CC3DC" stroke-width="0.5" opacity="0.85"/>
<circle cx="470.5" cy="265.1" r="1.05" fill="none" stroke="#9CC3DC" stroke-width="0.5" opacity="0.85"/>
<circle cx="480.0" cy="262.4" r="1.05" fill="none" stroke="#9CC3DC" stroke-width="0.5" opacity="0.85"/>
<circle cx="480.7" cy="255.5" r="1.05" fill="none" stroke="#9CC3DC" stroke-width="0.5" opacity="0.85"/>
<circle cx="484.1" cy="256.9" r="1.05" fill="none" stroke="#9CC3DC" stroke-width="0.5" opacity="0.85"/>
<circle cx="486.8" cy="255.5" r="1.05" fill="none" stroke="#9CC3DC" stroke-width="0.5" opacity="0.85"/>
<circle cx="484.1" cy="258.3" r="1.05" fill="none" stroke="#9CC3DC" stroke-width="0.5" opacity="0.85"/>
<circle cx="482.8" cy="250.8" r="1.05" fill="none" stroke="#9CC3DC" stroke-width="0.5" opacity="0.85"/>
<circle cx="480.0" cy="244.6" r="1.05" fill="none" stroke="#9CC3DC" stroke-width="0.5" opacity="0.85"/>
<circle cx="485.5" cy="242.6" r="1.05" fill="none" stroke="#9CC3DC" stroke-width="0.5" opacity="0.85"/>
<circle cx="446.3" cy="264.8" r="1.05" fill="none" stroke="#9CC3DC" stroke-width="0.5" opacity="0.18"/>
<circle cx="444.1" cy="234.9" r="1.05" fill="none" stroke="#9CC3DC" stroke-width="0.5" opacity="0.18"/>
<circle cx="432.1" cy="244.1" r="1.05" fill="none" stroke="#9CC3DC" stroke-width="0.5" opacity="0.85"/>
<circle cx="480.5" cy="256.7" r="1.05" fill="none" stroke="#9CC3DC" stroke-width="0.5" opacity="0.85"/>
<circle cx="480.5" cy="253.7" r="1.05" fill="none" stroke="#9CC3DC" stroke-width="0.5" opacity="0.85"/>
<circle cx="474.2" cy="256.0" r="1.05" fill="none" stroke="#9CC3DC" stroke-width="0.5" opacity="0.18"/>
<circle cx="428.2" cy="260.7" r="1.05" fill="none" stroke="#9CC3DC" stroke-width="0.5" opacity="0.85"/>
<circle cx="471.7" cy="262.0" r="1.05" fill="none" stroke="#9CC3DC" stroke-width="0.5" opacity="0.18"/>
<circle cx="432.9" cy="228.7" r="1.05" fill="none" stroke="#9CC3DC" stroke-width="0.5" opacity="0.85"/>
<circle cx="433.8" cy="238.9" r="1.05" fill="none" stroke="#9CC3DC" stroke-width="0.5" opacity="0.85"/>
<circle cx="475.3" cy="246.2" r="1.05" fill="none" stroke="#9CC3DC" stroke-width="0.5" opacity="0.18"/>
<circle cx="470.5" cy="233.4" r="1.05" fill="none" stroke="#9CC3DC" stroke-width="0.5" opacity="0.85"/>
<circle cx="468.6" cy="262.6" r="1.05" fill="none" stroke="#9CC3DC" stroke-width="0.5" opacity="0.18"/>
<circle cx="444.7" cy="273.2" r="1.05" fill="none" stroke="#9CC3DC" stroke-width="0.5" opacity="0.85"/>
<circle cx="467.4" cy="269.9" r="1.05" fill="none" stroke="#9CC3DC" stroke-width="0.5" opacity="0.85"/>
<circle cx="440.1" cy="232.8" r="1.05" fill="none" stroke="#9CC3DC" stroke-width="0.5" opacity="0.85"/>
<circle cx="436.7" cy="243.7" r="1.05" fill="none" stroke="#9CC3DC" stroke-width="0.5" opacity="0.18"/>
<circle cx="476.3" cy="255.5" r="1.05" fill="none" stroke="#9CC3DC" stroke-width="0.5" opacity="0.18"/>
<circle cx="445.1" cy="229.3" r="1.05" fill="none" stroke="#9CC3DC" stroke-width="0.5" opacity="0.85"/>
<circle cx="445.0" cy="270.2" r="1.05" fill="none" stroke="#9CC3DC" stroke-width="0.5" opacity="0.85"/>
<circle cx="433.4" cy="254.5" r="1.05" fill="none" stroke="#9CC3DC" stroke-width="0.5" opacity="0.85"/>
<circle cx="463.8" cy="224.9" r="1.05" fill="none" stroke="#9CC3DC" stroke-width="0.5" opacity="0.85"/>
<circle cx="456.8" cy="271.9" r="1.05" fill="none" stroke="#9CC3DC" stroke-width="0.5" opacity="0.85"/>
<circle cx="452.8" cy="229.2" r="1.05" fill="none" stroke="#9CC3DC" stroke-width="0.5" opacity="0.18"/>
<circle cx="476.4" cy="246.5" r="1.05" fill="none" stroke="#9CC3DC" stroke-width="0.5" opacity="0.18"/>
<circle cx="429.6" cy="261.2" r="1.05" fill="none" stroke="#9CC3DC" stroke-width="0.5" opacity="0.85"/>
<circle cx="470.9" cy="266.8" r="1.05" fill="none" stroke="#9CC3DC" stroke-width="0.5" opacity="0.85"/>
<circle cx="483.7" cy="254.7" r="1.05" fill="none" stroke="#9CC3DC" stroke-width="0.5" opacity="0.85"/>
<circle cx="458.3" cy="225.6" r="1.05" fill="none" stroke="#9CC3DC" stroke-width="0.5" opacity="0.85"/>
<circle cx="472.5" cy="234.6" r="1.05" fill="none" stroke="#9CC3DC" stroke-width="0.5" opacity="0.85"/>
<circle cx="446.5" cy="226.6" r="1.05" fill="none" stroke="#9CC3DC" stroke-width="0.5" opacity="0.85"/>
<circle cx="433.3" cy="238.2" r="1.05" fill="none" stroke="#9CC3DC" stroke-width="0.5" opacity="0.85"/>
<circle cx="473.4" cy="225.2" r="1.05" fill="none" stroke="#9CC3DC" stroke-width="0.5" opacity="0.85"/>
<circle cx="427.5" cy="252.6" r="1.05" fill="none" stroke="#9CC3DC" stroke-width="0.5" opacity="0.85"/>
<circle cx="483.0" cy="257.9" r="1.05" fill="none" stroke="#9CC3DC" stroke-width="0.5" opacity="0.85"/>
<circle cx="435.6" cy="226.0" r="1.05" fill="none" stroke="#9CC3DC" stroke-width="0.5" opacity="0.85"/>
<circle cx="465.9" cy="231.0" r="1.05" fill="none" stroke="#9CC3DC" stroke-width="0.5" opacity="0.85"/>
<circle cx="434.1" cy="264.7" r="1.05" fill="none" stroke="#9CC3DC" stroke-width="0.5" opacity="0.85"/>
<circle cx="481.3" cy="251.8" r="1.05" fill="none" stroke="#9CC3DC" stroke-width="0.5" opacity="0.85"/>
<circle cx="466.0" cy="264.0" r="1.05" fill="none" stroke="#9CC3DC" stroke-width="0.5" opacity="0.18"/>
<circle cx="484.0" cy="258.0" r="1.05" fill="none" stroke="#9CC3DC" stroke-width="0.5" opacity="0.85"/>
<circle cx="471.4" cy="262.6" r="1.05" fill="none" stroke="#9CC3DC" stroke-width="0.5" opacity="0.18"/>
<circle cx="431.2" cy="265.7" r="1.05" fill="none" stroke="#9CC3DC" stroke-width="0.5" opacity="0.85"/>
<circle cx="478.2" cy="259.2" r="1.05" fill="none" stroke="#9CC3DC" stroke-width="0.5" opacity="0.85"/>
<circle cx="469.1" cy="224.4" r="1.05" fill="none" stroke="#9CC3DC" stroke-width="0.5" opacity="0.85"/>
<circle cx="453.5" cy="246.1" r="1.0" fill="none" stroke="#5f9c80" stroke-width="0.5" opacity="0.75"/>
<circle cx="458.3" cy="246.5" r="1.0" fill="none" stroke="#5f9c80" stroke-width="0.5" opacity="0.75"/>
<circle cx="455.5" cy="250.5" r="1.0" fill="none" stroke="#5f9c80" stroke-width="0.5" opacity="0.75"/>
<circle cx="451.8" cy="250.1" r="1.0" fill="none" stroke="#5f9c80" stroke-width="0.5" opacity="0.75"/>
<circle cx="459.8" cy="251.1" r="1.0" fill="none" stroke="#5f9c80" stroke-width="0.5" opacity="0.75"/>
<circle cx="456.3" cy="253.1" r="1.0" fill="none" stroke="#5f9c80" stroke-width="0.5" opacity="0.75"/>
<circle cx="452.8" cy="243.7" r="1.0" fill="none" stroke="#5f9c80" stroke-width="0.5" opacity="0.75"/>
<circle cx="460.5" cy="244.4" r="1.0" fill="none" stroke="#5f9c80" stroke-width="0.5" opacity="0.75"/>
<path d="M389.5,306.4 L389.5,191.4 L522.0,191.4" fill="none" stroke="#c4c4c4" stroke-width="0.8"/>
<path d="M389.5,306.4 L522.0,306.4" fill="none" stroke="#c4c4c4" stroke-width="0.8"/>
<line x1="422.62" y1="306.4" x2="422.62" y2="304.9" stroke="#999" stroke-width="0.5"/>
<line x1="422.62" y1="191.4" x2="422.62" y2="192.9" stroke="#999" stroke-width="0.5"/>
<text x="422.62" y="312.80" text-anchor="middle" class="hk">-10</text>
<line x1="455.75" y1="306.4" x2="455.75" y2="304.9" stroke="#999" stroke-width="0.5"/>
<line x1="455.75" y1="191.4" x2="455.75" y2="192.9" stroke="#999" stroke-width="0.5"/>
<text x="455.75" y="312.80" text-anchor="middle" class="hk">0</text>
<line x1="488.88" y1="306.4" x2="488.88" y2="304.9" stroke="#999" stroke-width="0.5"/>
<line x1="488.88" y1="191.4" x2="488.88" y2="192.9" stroke="#999" stroke-width="0.5"/>
<text x="488.88" y="312.80" text-anchor="middle" class="hk">10</text>
<line x1="522.00" y1="306.4" x2="522.00" y2="304.9" stroke="#999" stroke-width="0.5"/>
<line x1="522.00" y1="191.4" x2="522.00" y2="192.9" stroke="#999" stroke-width="0.5"/>
<text x="522.00" y="312.80" text-anchor="middle" class="hk">20</text>
<line x1="389.5" y1="277.65" x2="391.0" y2="277.65" stroke="#999" stroke-width="0.5"/>
<line x1="522.0" y1="277.65" x2="520.5" y2="277.65" stroke="#999" stroke-width="0.5"/>
<text x="387.90" y="279.85" text-anchor="end" class="hk">-10</text>
<line x1="389.5" y1="248.90" x2="391.0" y2="248.90" stroke="#999" stroke-width="0.5"/>
<line x1="522.0" y1="248.90" x2="520.5" y2="248.90" stroke="#999" stroke-width="0.5"/>
<text x="387.90" y="251.10" text-anchor="end" class="hk">0</text>
<line x1="389.5" y1="220.15" x2="391.0" y2="220.15" stroke="#999" stroke-width="0.5"/>
<line x1="522.0" y1="220.15" x2="520.5" y2="220.15" stroke="#999" stroke-width="0.5"/>
<text x="387.90" y="222.35" text-anchor="end" class="hk">10</text>
<line x1="389.5" y1="191.40" x2="391.0" y2="191.40" stroke="#999" stroke-width="0.5"/>
<line x1="522.0" y1="191.40" x2="520.5" y2="191.40" stroke="#999" stroke-width="0.5"/>
<text x="387.90" y="193.60" text-anchor="end" class="hk">20</text>
<rect x="527.9" y="191.1" width="5.7" height="115.4" fill="url(#parula)"/>
<text x="534.7" y="308.00" class="cb">0</text>
<text x="534.7" y="296.46" class="cb">0.001</text>
<text x="534.7" y="284.92" class="cb">0.002</text>
<text x="534.7" y="273.38" class="cb">0.003</text>
<text x="534.7" y="261.84" class="cb">0.004</text>
<text x="534.7" y="250.30" class="cb">0.005</text>
<text x="534.7" y="238.76" class="cb">0.006</text>
<text x="534.7" y="227.22" class="cb">0.007</text>
<text x="534.7" y="215.68" class="cb">0.008</text>
<text x="534.7" y="204.14" class="cb">0.009</text>
<text x="534.7" y="192.60" class="cb">0.01</text>
<text x="171.2" y="322" text-anchor="middle" class="cap">(a)</text>
<text x="460.2" y="160.3" text-anchor="middle" class="cap">(b)</text>
<text x="460.3" y="341.3" text-anchor="middle" class="cap">(c)</text>
</svg>
</body></html>
